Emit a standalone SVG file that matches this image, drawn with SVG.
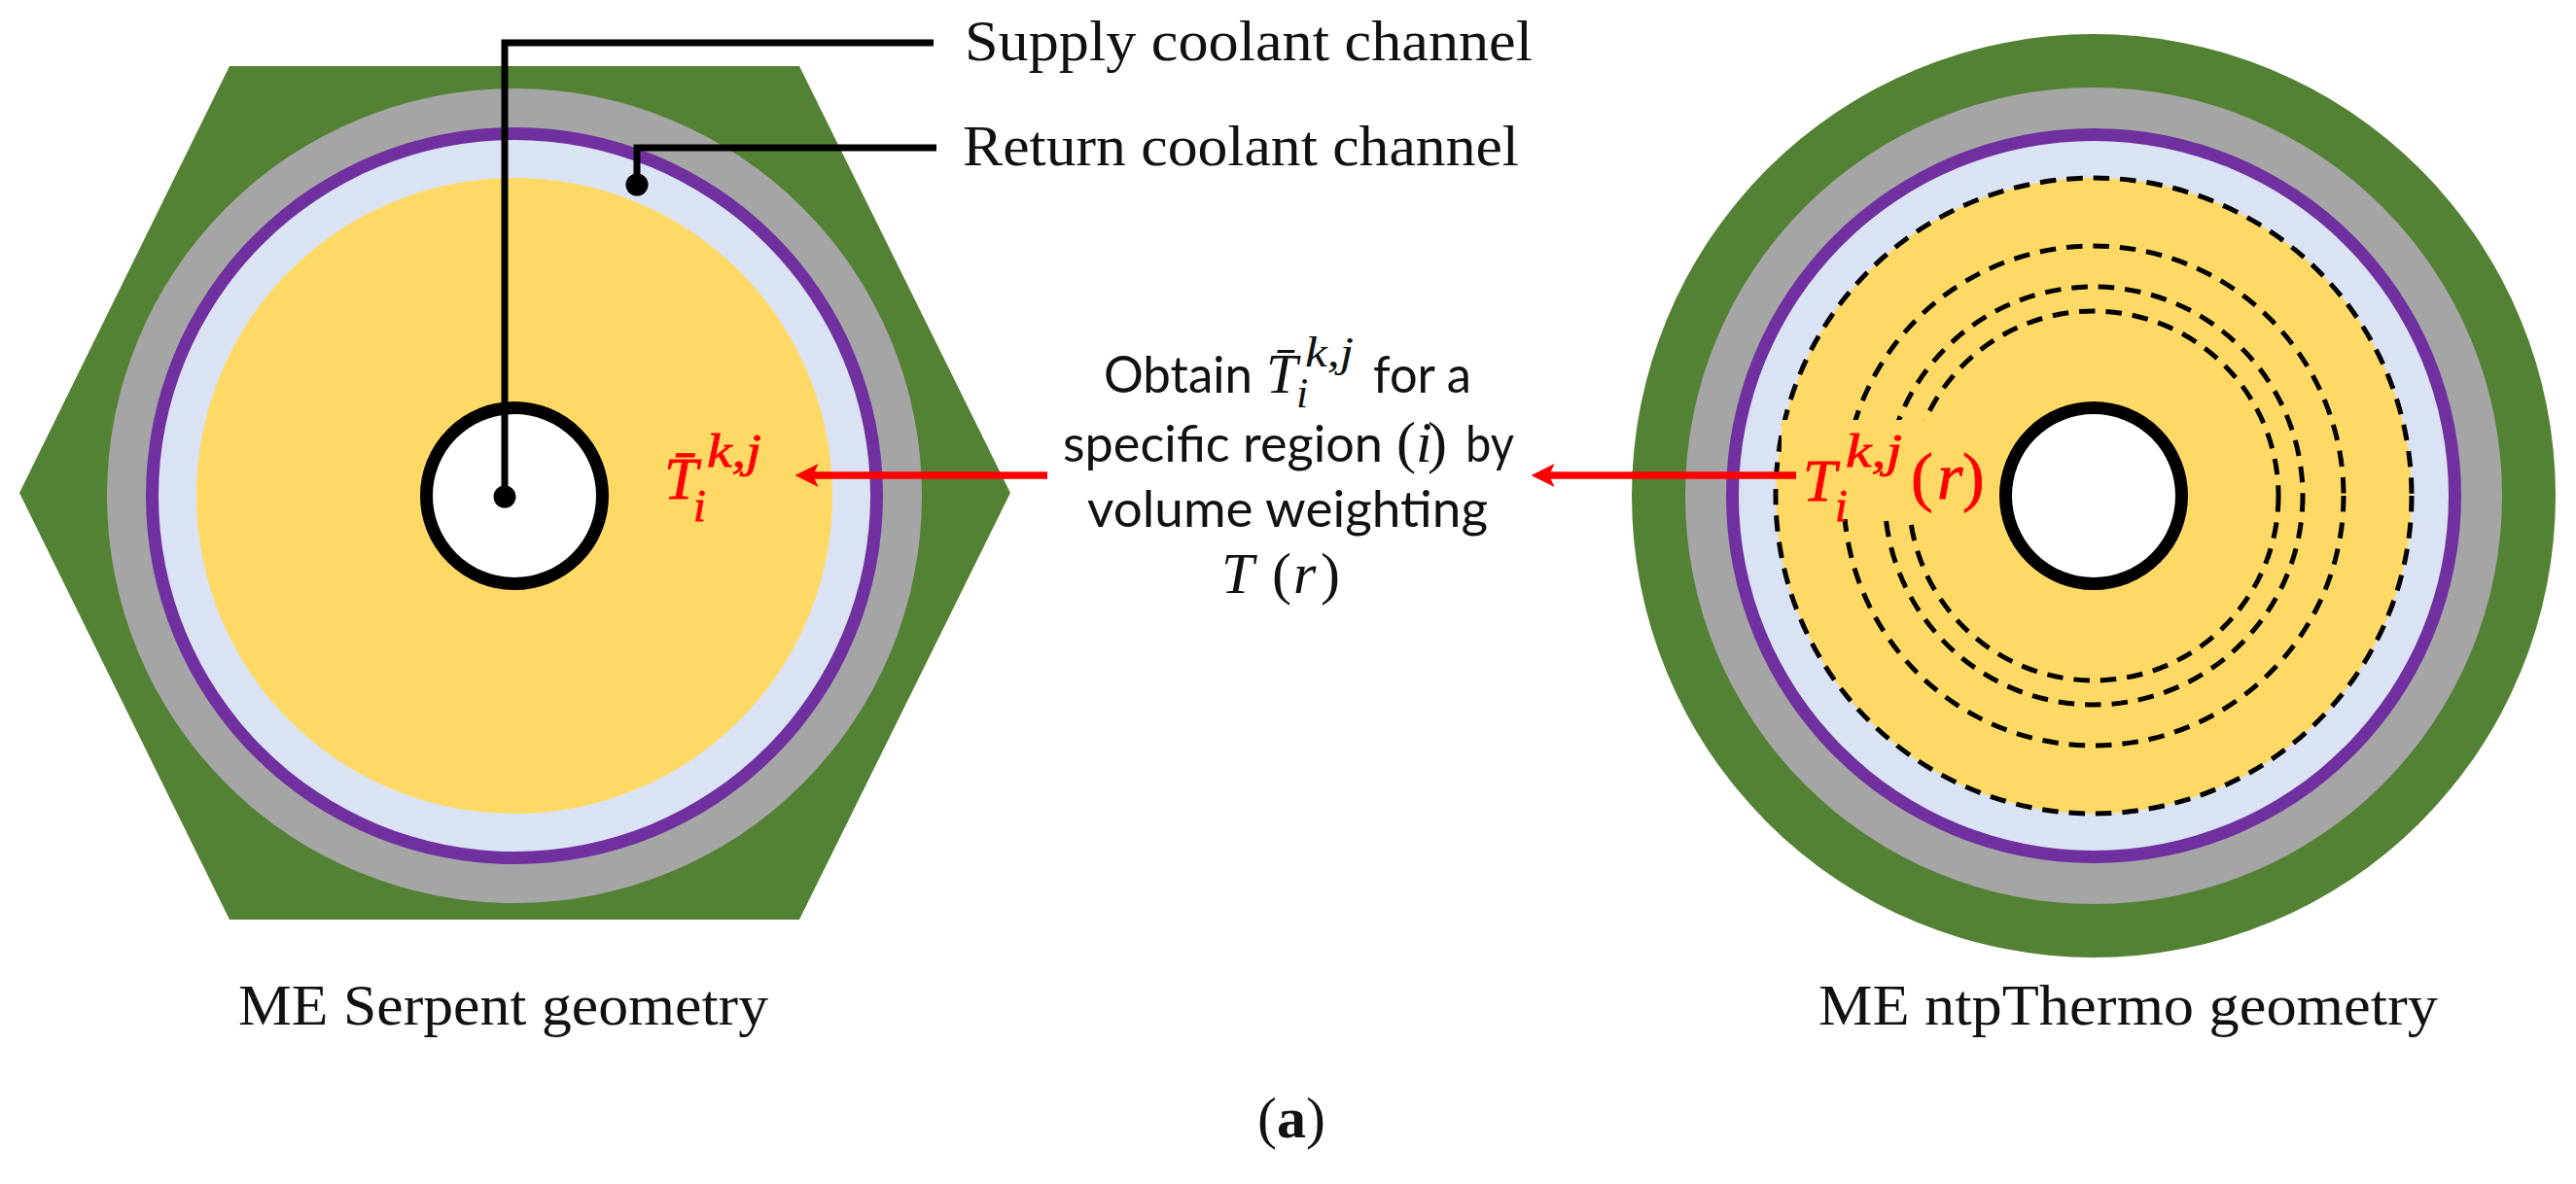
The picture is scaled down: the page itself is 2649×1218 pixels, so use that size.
<svg xmlns="http://www.w3.org/2000/svg" width="2649" height="1218" viewBox="0 0 2649 1218">
<style>
.g{fill:#548235}.s{fill:#A5A5A5}.p{fill:#7030A0}.b{fill:#DAE3F3}.y{fill:#FFD966}
.ring{fill:#fff;stroke:#000;stroke-width:13}
.dash{fill:none;stroke:#000;stroke-width:5;stroke-dasharray:16.5 11}
.lead{fill:none;stroke:#000;stroke-width:7}
.red{stroke:#f00;stroke-width:7.5;fill:none;marker-end:url(#ah)}
.pal{font-family:"Liberation Serif",serif;font-size:60px;fill:#111}
.cal{font-family:Lato,"Liberation Sans",sans-serif;font-size:52px;fill:#111}
.m{font-family:"Liberation Serif",serif;font-style:italic;fill:#111}
.r{fill:#f00;stroke:#f00;stroke-width:.8}
</style>
<defs>
<marker id="ah" markerUnits="userSpaceOnUse" markerWidth="24" markerHeight="24" viewBox="0 0 22 22" refX="6" refY="11" orient="auto"><path d="M0 0L22 11L0 22L5 11Z" fill="#f00"/></marker>
</defs>
<rect width="2649" height="1218" fill="#fff"/>
<g id="serpent-geometry">
<polygon class="g" points="20,507 236,68 822,68 1039,507 822,946 236,946"/>
<circle class="s" cx="529" cy="510" r="419"/>
<circle class="p" cx="529" cy="510" r="379"/>
<circle class="b" cx="529" cy="510" r="366"/>
<circle class="y" cx="529" cy="510" r="327"/>
<circle class="ring" cx="529" cy="510" r="90.5"/>
<text class="m r" x="683" y="513" font-size="62">T&#772;</text>
<text class="m r" x="727" y="480" font-size="48" textLength="56" lengthAdjust="spacingAndGlyphs">k,j</text>
<text class="m r" x="713" y="536" font-size="46">i</text>
</g>
<g id="ntpthermo-geometry">
<circle class="g" cx="2153" cy="510" r="475"/>
<circle class="s" cx="2153" cy="510" r="420"/>
<circle class="p" cx="2153" cy="510" r="378"/>
<circle class="b" cx="2153" cy="510" r="365"/>
<circle class="y" cx="2153" cy="510" r="327"/>
<circle class="dash" cx="2153" cy="510" r="327"/>
<circle class="dash" cx="2153" cy="510" r="257"/>
<circle class="dash" cx="2153" cy="510" r="215"/>
<circle class="dash" cx="2153" cy="510" r="190"/>
<rect class="y" x="1832" y="432" width="212" height="102"/>
<circle class="ring" cx="2153" cy="510" r="90.5"/>
<text class="m r" x="1854" y="515" font-size="62">T</text>
<text class="m r" x="1898" y="480" font-size="48" textLength="58" lengthAdjust="spacingAndGlyphs">k,j</text>
<text class="m r" x="1887" y="536" font-size="46">i</text>
<text class="m r" x="1965" y="513" font-size="68"><tspan font-style="normal">(</tspan><tspan x="1992">r</tspan><tspan x="2018" font-style="normal">)</tspan></text>
</g>
<g id="connectors">
<path class="lead" d="M960 44H519V511"/>
<circle cx="519" cy="511" r="11.5"/>
<path class="lead" d="M963 152H655V190"/>
<circle cx="655" cy="190" r="11.5"/>
<line class="red" x1="1077" y1="489" x2="835" y2="489"/>
<line class="red" x1="1847" y1="489" x2="1592" y2="489"/>
</g>
<g id="label-supply"><text class="pal" x="992" y="62" textLength="584" lengthAdjust="spacingAndGlyphs">Supply coolant channel</text></g>
<g id="label-return"><text class="pal" x="990" y="170" textLength="572" lengthAdjust="spacingAndGlyphs">Return coolant channel</text></g>
<g id="label-note">
<text class="cal" x="1135" y="404" textLength="153" lengthAdjust="spacingAndGlyphs">Obtain</text>
<text class="m" x="1302" y="404" font-size="58">T&#772;</text>
<text class="m" x="1342" y="377" font-size="44" textLength="50" lengthAdjust="spacingAndGlyphs">k,j</text>
<text class="m" x="1333" y="419" font-size="44">i</text>
<text class="cal" x="1412" y="404" textLength="101" lengthAdjust="spacingAndGlyphs">for a</text>
<text class="cal" x="1093" y="475" textLength="329" lengthAdjust="spacingAndGlyphs">specific region</text>
<text class="m" x="1436" y="475" font-size="60"><tspan font-style="normal">(</tspan><tspan x="1456">i</tspan><tspan x="1468" font-style="normal">)</tspan></text>
<text class="cal" x="1507" y="475" textLength="50" lengthAdjust="spacingAndGlyphs">by</text>
<text class="cal" x="1118" y="542" textLength="412" lengthAdjust="spacingAndGlyphs">volume weighting</text>
<text class="m" x="1256" y="610" font-size="60">T</text>
<text class="m" x="1308" y="610" font-size="60"><tspan font-style="normal">(</tspan><tspan x="1330">r</tspan><tspan x="1358" font-style="normal">)</tspan></text>
</g>
<g id="caption-serpent"><text class="pal" x="245" y="1054" textLength="545" lengthAdjust="spacingAndGlyphs">ME Serpent geometry</text></g>
<g id="caption-ntpthermo"><text class="pal" x="1870" y="1054" textLength="637" lengthAdjust="spacingAndGlyphs">ME ntpThermo geometry</text></g>
<g id="caption-a"><text class="pal" x="1293" y="1170">(<tspan font-weight="bold">a</tspan>)</text></g>
</svg>
